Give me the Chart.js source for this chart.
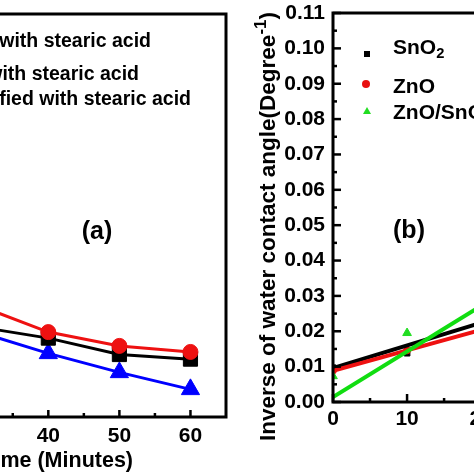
<!DOCTYPE html>
<html>
<head>
<meta charset="utf-8">
<script src="https://cdn.jsdelivr.net/npm/chart.js@4.4.1/dist/chart.umd.min.js"></script>
<style>
  html, body { margin: 0; padding: 0; background: #fff; }
  body {
    width: 474px; height: 474px; overflow: hidden; position: relative;
    font-family: "Liberation Sans", Arial, sans-serif; font-weight: bold; color: #000;
  }
  canvas { position: absolute; top: 0; }
  .lbl { position: absolute; white-space: nowrap; line-height: 24px; }
  sub { font-size: 0.7em; vertical-align: -0.3em; line-height: 0; }
  sup { font-size: 0.75em; vertical-align: 0.55em; line-height: 0; }
  .mk { position: absolute; }
</style>
</head>
<body>
<canvas id="chartA" width="466" height="474" style="left:-236px"></canvas>
<canvas id="chartB" width="299" height="474" style="left:275px"></canvas>

<!-- panel (a) legend, cut off on the left like the reference -->
<div class="lbl" style="right:323px;top:28px;font-size:19.5px">SnO<sub>2</sub> modified with stearic acid</div>
<div class="lbl" style="right:335px;top:61px;font-size:19.5px">ZnO modified with stearic acid</div>
<div class="lbl" style="right:283px;top:86px;font-size:19.5px">ZnO/SnO<sub>2</sub> modified with stearic acid</div>
<div class="lbl" style="left:97px;top:230px;font-size:25px;transform:translate(-50%,-50%)">(a)</div>
<div class="lbl" style="right:341px;top:448px;font-size:21.5px">Time (Minutes)</div>

<!-- panel (b) legend -->
<div class="mk" style="left:364px;top:51px;width:6px;height:6px;background:#000"></div>
<div class="mk" style="left:362px;top:80px;width:8px;height:8px;border-radius:50%;background:#e81010"></div>
<div class="mk" style="left:363px;top:107px;width:0;height:0;border-left:4px solid transparent;border-right:4px solid transparent;border-bottom:7px solid #22dd22"></div>
<div class="lbl" style="left:393px;top:35px;font-size:21px">SnO<sub>2</sub></div>
<div class="lbl" style="left:393px;top:74px;font-size:21px">ZnO</div>
<div class="lbl" style="left:393px;top:100px;font-size:21px">ZnO/SnO<sub>2</sub></div>
<div class="lbl" style="left:409px;top:229px;font-size:25px;transform:translate(-50%,-50%)">(b)</div>
<div class="lbl" style="left:256px;top:441px;font-size:22.5px;transform-origin:0 0;transform:rotate(-90deg)">Inverse of water contact angle(Degree<sup>-1</sup>)</div>

<script>
// ---- panel (a): water contact angle vs time (only the visible part) ----
const timeA        = [30, 40, 50, 60];
const angleSnO2    = [31.4, 27.4, 21.7, 20.1];
const angleZnO     = [38.9, 29.5, 24.7, 22.6];
const angleZnOSnO2 = [29.7, 22.1, 15.5, 9.6];

// ---- panel (b): inverse contact angle, points + linear fits ----
const timeB        = [0, 10];
const invSnO2      = [0.0097, 0.0138];
const invZnO       = [0.0089, 0.0146];
const invZnOSnO2   = [0.0073, 0.0195];
const fitTime      = [0, 30];
const fitSnO2      = [0.0096, 0.0288];
const fitZnO       = [0.0088, 0.0262];
const fitZnOSnO2   = [0.0014, 0.0401];

const FONT = '"Liberation Sans", Arial, sans-serif';
const toXY = (xs, ys) => xs.map((x, i) => ({ x, y: ys[i] }));

// Origin style frame with inward major/minor ticks
const originAxes = {
  id: 'originAxes',
  afterDatasetsDraw(chart, args, opts) {
    const { ctx, chartArea: a, scales } = chart;
    ctx.save();
    ctx.strokeStyle = '#000';
    ctx.lineWidth = 2.5;
    const marks = (scale, draw) => {
      const vals = scale.ticks.map(t => t.value);
      const half = (vals[1] - vals[0]) / 2;
      vals.forEach(v => {
        draw(scale.getPixelForValue(v), opts.major);
        if (v + half < scale.max) draw(scale.getPixelForValue(v + half), opts.minor);
      });
    };
    marks(scales.x, (px, len) => {
      ctx.beginPath(); ctx.moveTo(px, a.bottom); ctx.lineTo(px, a.bottom - len); ctx.stroke();
    });
    if (opts.yTicks) {
      marks(scales.y, (py, len) => {
        ctx.beginPath(); ctx.moveTo(a.left, py); ctx.lineTo(a.left + len, py); ctx.stroke();
      });
    }
    ctx.lineWidth = 3;
    ctx.strokeRect(a.left, a.top, a.width, a.height);
    ctx.restore();
  }
};

function fixSize(prop, size) {
  return scale => {
    scale[prop] = size;
    scale.paddingLeft = scale.paddingRight = scale.paddingTop = scale.paddingBottom = 0;
  };
}

const tickFont = { family: FONT, size: 21, weight: 'bold' };
const noGrid = { display: false, drawTicks: false };

new Chart(document.getElementById('chartA'), {
  type: 'line',
  data: {
    datasets: [
      { label: 'ZnO', data: toXY(timeA, angleZnO), borderColor: '#ee1111', backgroundColor: '#ee1111',
        pointStyle: 'circle', pointRadius: 7.5, order: 0 },
      { label: 'SnO2', data: toXY(timeA, angleSnO2), borderColor: '#000', backgroundColor: '#000',
        pointStyle: 'rect', pointRadius: 10, order: 1 },
      { label: 'ZnO/SnO2', data: toXY(timeA, angleZnOSnO2), borderColor: '#0000ff', backgroundColor: '#0000ff',
        pointStyle: 'triangle', pointRadius: 10.5, order: 2 }
    ]
  },
  options: {
    responsive: false,
    animation: false,
    layout: { autoPadding: false, padding: { top: 14, right: 4, left: 0, bottom: 0 } },
    datasets: { line: { borderWidth: 3, pointBorderWidth: 1, tension: 0 } },
    plugins: { legend: { display: false }, tooltip: { enabled: false }, originAxes: { major: 7, minor: 4, yTicks: false } },
    scales: {
      x: {
        type: 'linear', min: 0, max: 65,
        grid: noGrid, border: { display: false },
        ticks: { stepSize: 10, includeBounds: false, padding: 7, color: '#000', font: tickFont, maxRotation: 0 },
        afterFit: fixSize('height', 57)
      },
      y: { display: false, min: 0, max: 140 }
    }
  },
  plugins: [originAxes]
});

new Chart(document.getElementById('chartB'), {
  type: 'line',
  data: {
    datasets: [
      { label: 'ZnO/SnO2 fit', data: toXY(fitTime, fitZnOSnO2), borderColor: '#11dd11', borderWidth: 4,
        pointRadius: 0, order: 0 },
      { label: 'ZnO fit', data: toXY(fitTime, fitZnO), borderColor: '#ee1111', borderWidth: 4,
        pointRadius: 0, order: 1 },
      { label: 'SnO2 fit', data: toXY(fitTime, fitSnO2), borderColor: '#000', borderWidth: 4,
        pointRadius: 0, order: 2 },
      { label: 'ZnO/SnO2', data: toXY(timeB, invZnOSnO2), showLine: false, pointStyle: 'triangle',
        pointRadius: 5, backgroundColor: '#22dd22', borderColor: '#22dd22', order: 3 },
      { label: 'ZnO', data: toXY(timeB, invZnO), showLine: false, pointStyle: 'circle',
        pointRadius: 3.5, backgroundColor: '#ee1111', borderColor: '#ee1111', order: 4 },
      { label: 'SnO2', data: toXY(timeB, invSnO2), showLine: false, pointStyle: 'rect',
        pointRadius: 4, backgroundColor: '#000', borderColor: '#000', order: 5 }
    ]
  },
  options: {
    responsive: false,
    animation: false,
    layout: { autoPadding: false, padding: { top: 13, right: 4, left: 0, bottom: 0 } },
    datasets: { line: { tension: 0, pointBorderWidth: 1 } },
    plugins: { legend: { display: false }, tooltip: { enabled: false }, originAxes: { major: 8, minor: 4, yTicks: true } },
    scales: {
      x: {
        type: 'linear', min: 0, max: 32,
        grid: noGrid, border: { display: false },
        ticks: { stepSize: 10, includeBounds: false, padding: 5, color: '#000', font: tickFont, maxRotation: 0 },
        afterFit: fixSize('height', 72)
      },
      y: {
        min: 0, max: 0.11,
        grid: noGrid, border: { display: false },
        ticks: { stepSize: 0.01, padding: 8, color: '#000', font: tickFont, callback: v => v.toFixed(2) },
        afterFit: fixSize('width', 58)
      }
    }
  },
  plugins: [originAxes]
});
</script>
</body>
</html>
